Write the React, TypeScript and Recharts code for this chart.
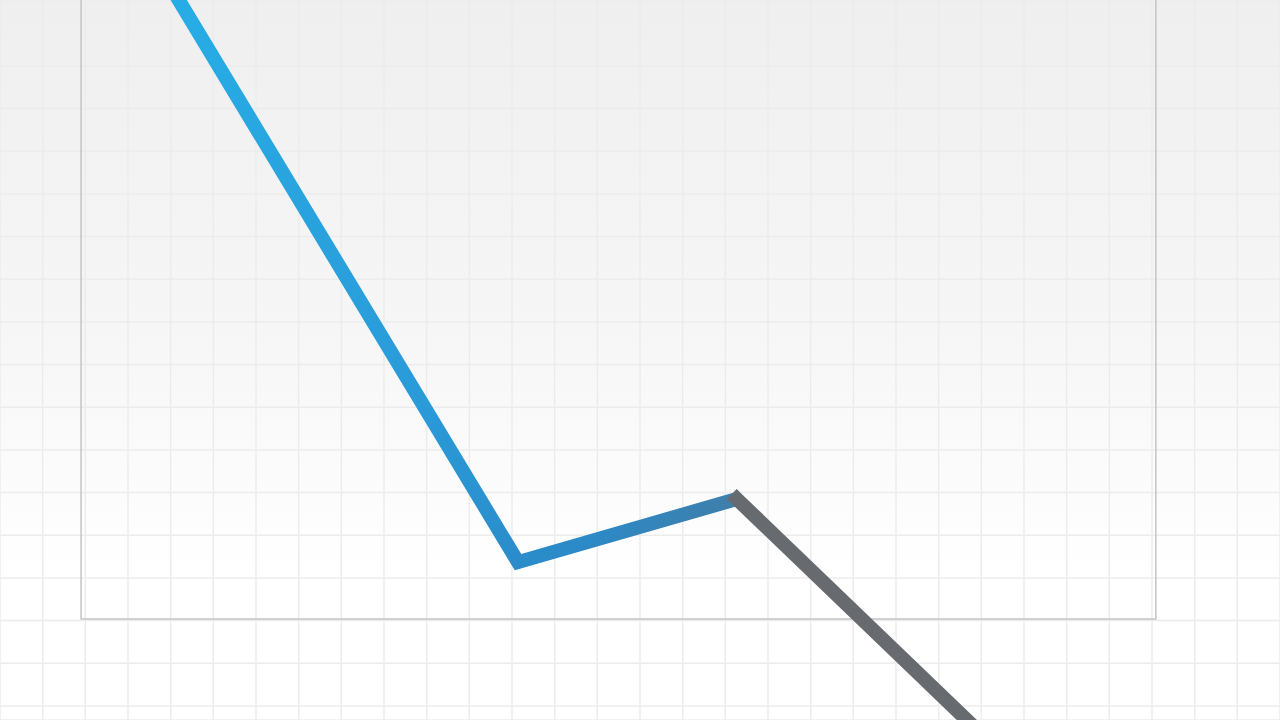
import React from 'react';
import { ComposedChart, Line, XAxis, YAxis, CartesianGrid, ReferenceArea } from 'recharts';

// Grid units: one cell of the background paper = 1 unit on each axis.
const gridColumns = Array.from({ length: 31 }, (_, i) => i);
const gridRows = Array.from({ length: 18 }, (_, i) => i);

// Falling series: blue part (the drop and small rebound), grey part (the new fall).
const dropPeriods = [3.72, 12.14, 17.27];
const dropValues = [17.32, 3.37, 4.85];
const fallPeriods = [17.27, 23.15];
const fallValues = [4.85, -0.8];

// Frame around the plot.
const frameLeft = 1.9;
const frameRight = 27.09;
const frameBottom = 2.04;
const frameTop = 18;

const dropData = dropPeriods.map((p, i) => ({ period: p, drop: dropValues[i] }));
const fallData = fallPeriods.map((p, i) => ({ period: p, fall: fallValues[i] }));

export default function App() {
  return (
    <div
      style={{
        position: 'relative',
        width: 1280,
        height: 720,
        overflow: 'hidden',
        background: 'linear-gradient(to bottom, #efeff0 0%, #f6f6f7 45%, #ffffff 80%, #ffffff 100%)',
      }}
    >
      <style>{'body { margin: 0; }'}</style>
      <ComposedChart width={1280} height={720} margin={{ top: 0, right: 0, bottom: 0, left: 0 }}>
        <defs>
          <linearGradient id="dropStroke" x1="0" y1="0" x2="1" y2="1">
            <stop offset="0%" stopColor="#27aee6" />
            <stop offset="60%" stopColor="#2a9ad8" />
            <stop offset="85%" stopColor="#2b8ac8" />
            <stop offset="100%" stopColor="#4a7899" />
          </linearGradient>
        </defs>
        <XAxis
          type="number"
          dataKey="period"
          domain={[0, 30]}
          ticks={gridColumns}
          allowDataOverflow
          hide
        />
        <YAxis
          type="number"
          domain={[-0.33, 16.545]}
          ticks={gridRows}
          allowDataOverflow
          hide
        />
        <CartesianGrid stroke="#ececed" strokeWidth={1.5} />
        <ReferenceArea
          x1={frameLeft}
          x2={frameRight}
          y1={frameBottom}
          y2={frameTop}
          ifOverflow="visible"
          fill="none"
          stroke="#c4c4c6"
          strokeWidth={1.5}
        />
        <Line
          data={dropData}
          dataKey="drop"
          type="linear"
          stroke="url(#dropStroke)"
          strokeWidth={14}
          strokeLinejoin="miter"
          dot={false}
          activeDot={false}
          isAnimationActive={false}
        />
        <Line
          data={fallData}
          dataKey="fall"
          type="linear"
          stroke="#676b6f"
          strokeWidth={14}
          strokeLinecap="square"
          dot={false}
          activeDot={false}
          isAnimationActive={false}
        />
      </ComposedChart>
    </div>
  );
}
